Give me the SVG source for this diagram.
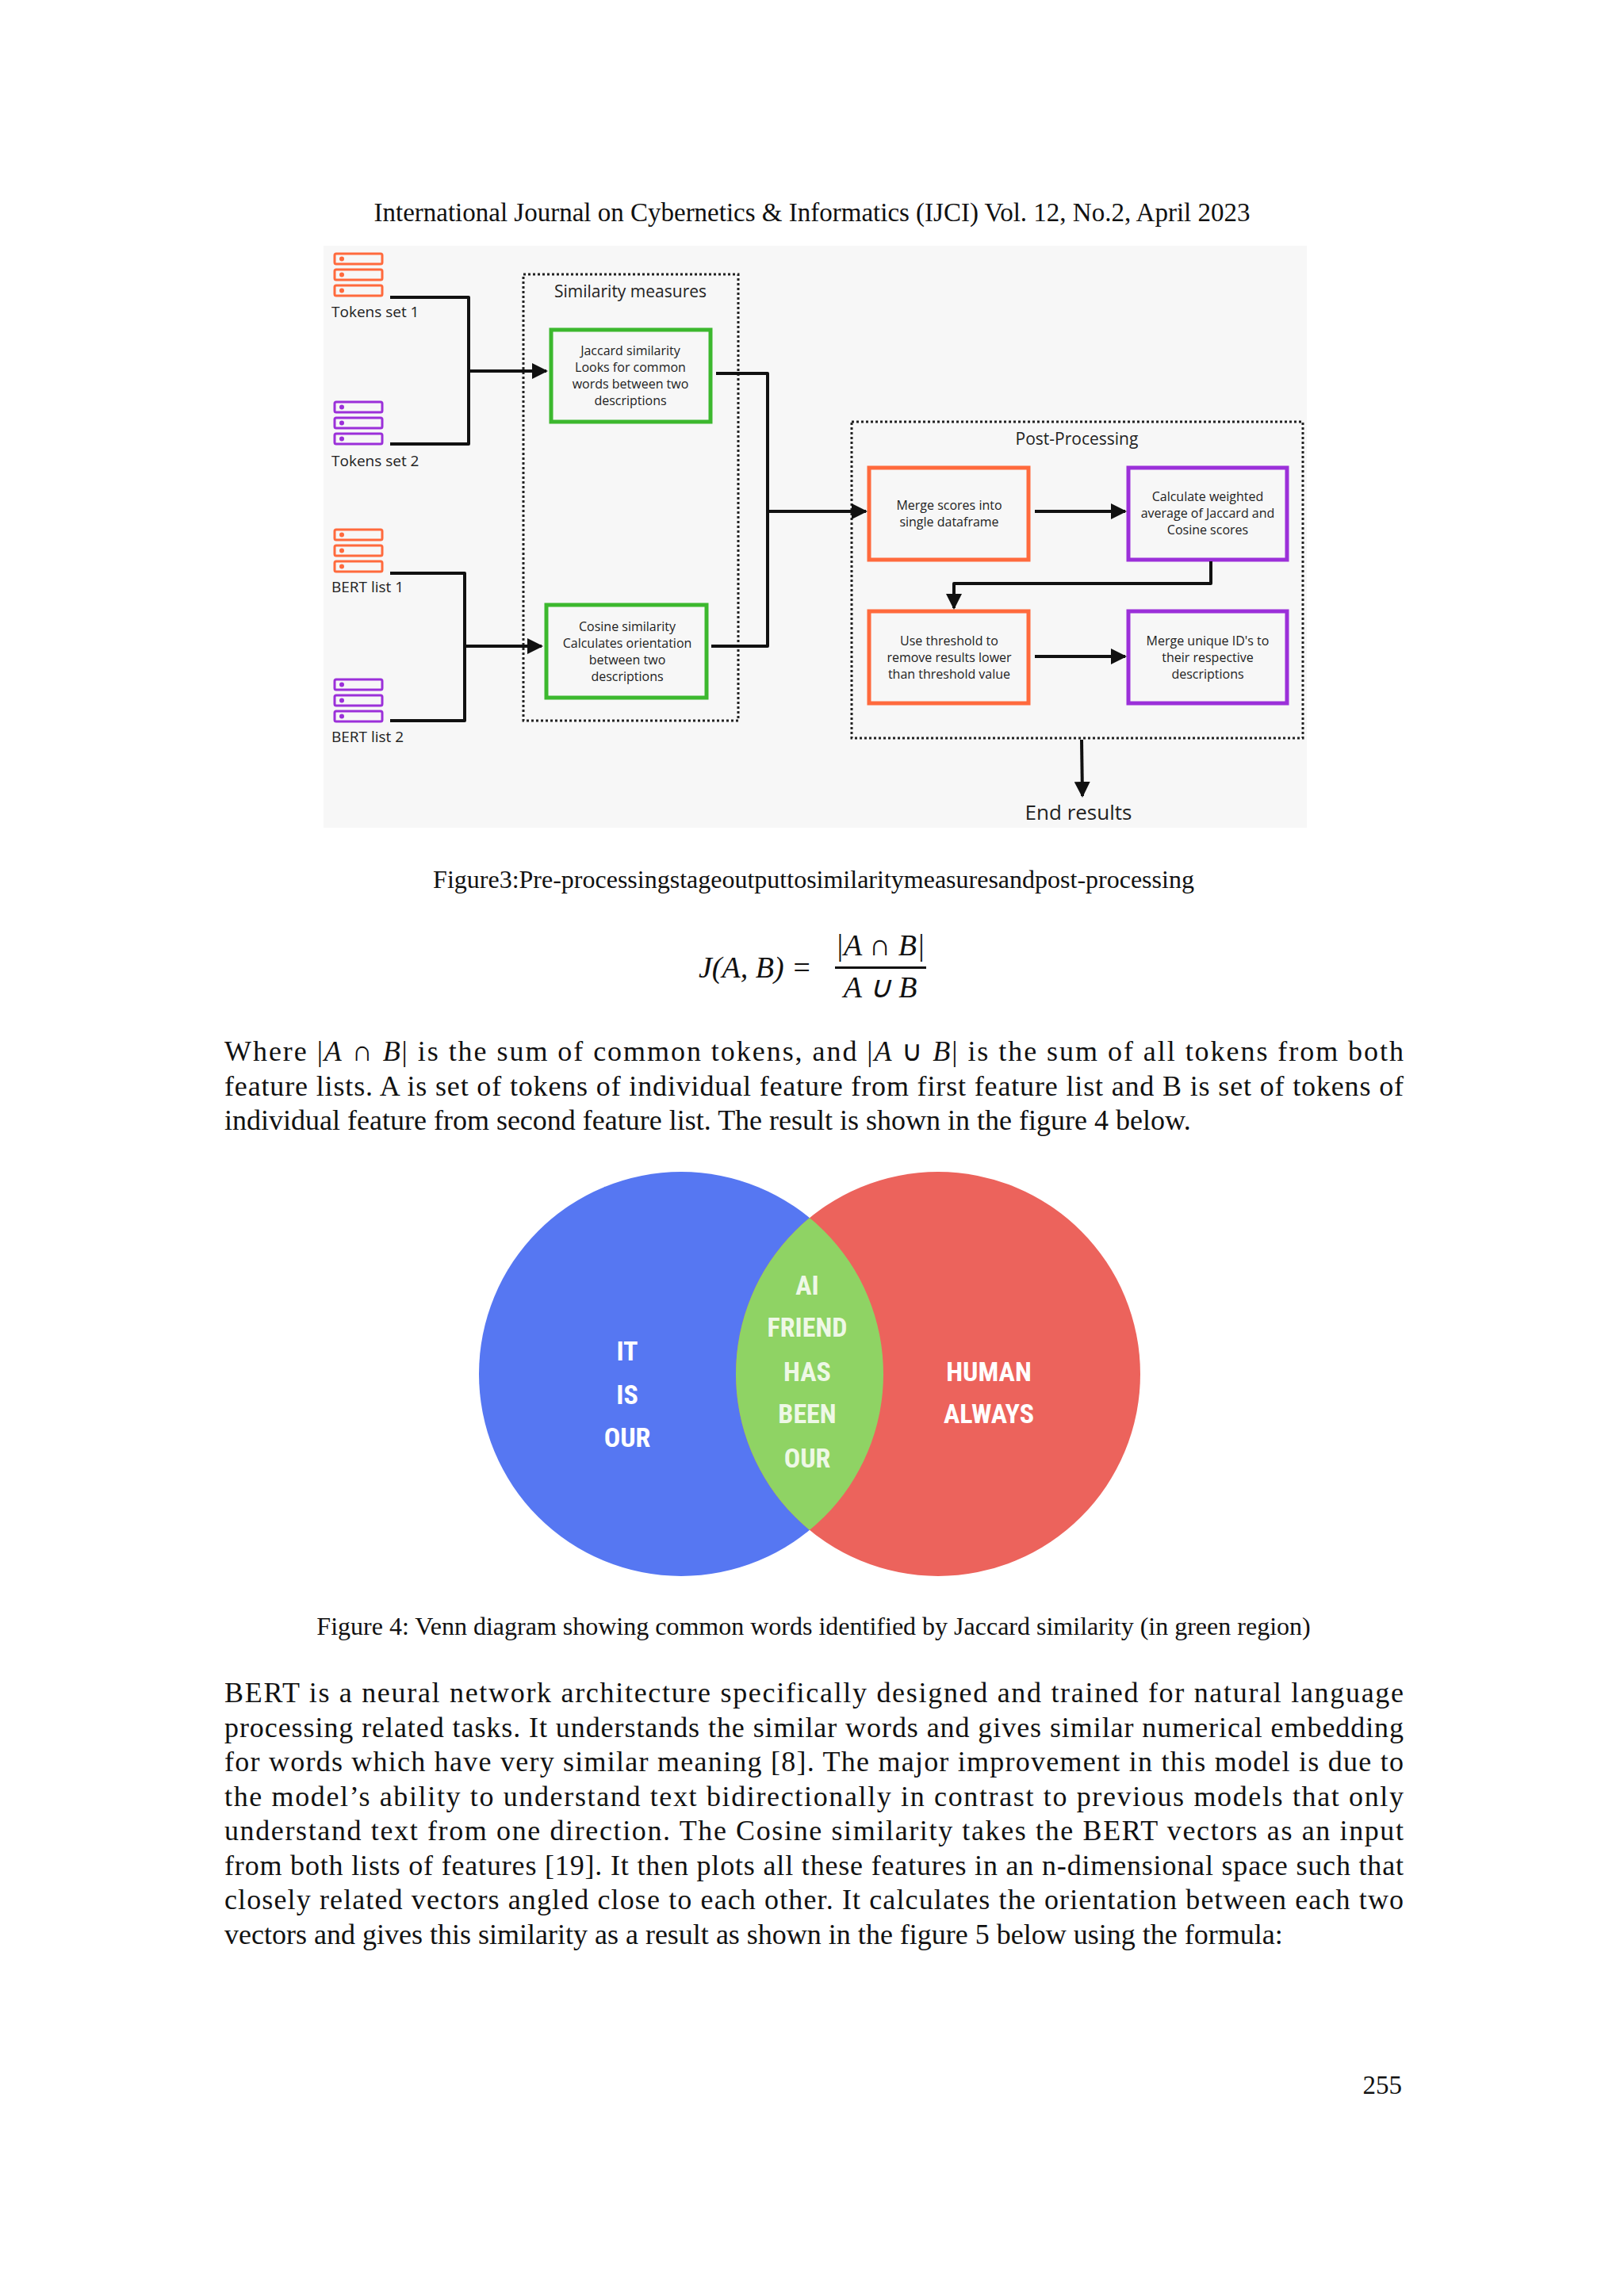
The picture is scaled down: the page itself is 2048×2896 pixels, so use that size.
<svg xmlns="http://www.w3.org/2000/svg" width="2048" height="2896" viewBox="0 0 2048 2896">
<style>
.serif{font-family:"Liberation Serif","Times New Roman",serif;fill:#111}
.sans{font-family:"Open Sans","Liberation Sans",sans-serif;fill:#222}
.box{fill:#f7f7f7;stroke-width:5}
.g{stroke:#3cb82e}.o{stroke:#ff6a3d}.p{stroke:#9b30d9}
.dot{fill:none;stroke:#222;stroke-width:3;stroke-dasharray:3 3}
.ln{fill:none;stroke:#111;stroke-width:4;stroke-linejoin:round}
.bt{font-size:16px;text-anchor:middle}
.ven{font-family:"Liberation Sans Narrow","Roboto Condensed","Liberation Sans",sans-serif;font-weight:bold;font-size:34px;text-anchor:middle;fill:#fff}
.para{font-size:36px}
</style>
<defs>
<marker id="ar" viewBox="0 0 10 10" refX="9" refY="5" markerWidth="5" markerHeight="5" orient="auto"><path d="M0,0L10,5L0,10z" fill="#111"/></marker>
<g id="ico-o"><rect x="2" y="2" width="60" height="13" rx="2" fill="none" stroke="#ff6a3d" stroke-width="3"/><rect x="2" y="22" width="60" height="13" rx="2" fill="none" stroke="#ff6a3d" stroke-width="3"/><rect x="2" y="42" width="60" height="13" rx="2" fill="none" stroke="#ff6a3d" stroke-width="3"/><circle cx="11" cy="8.5" r="3" fill="#ff6a3d"/><circle cx="11" cy="28.5" r="3" fill="#ff6a3d"/><circle cx="11" cy="48.5" r="3" fill="#ff6a3d"/></g>
<g id="ico-p"><rect x="2" y="2" width="60" height="13" rx="2" fill="none" stroke="#9b30d9" stroke-width="3"/><rect x="2" y="22" width="60" height="13" rx="2" fill="none" stroke="#9b30d9" stroke-width="3"/><rect x="2" y="42" width="60" height="13" rx="2" fill="none" stroke="#9b30d9" stroke-width="3"/><circle cx="11" cy="8.5" r="3" fill="#9b30d9"/><circle cx="11" cy="28.5" r="3" fill="#9b30d9"/><circle cx="11" cy="48.5" r="3" fill="#9b30d9"/></g>
</defs>
<rect width="2048" height="2896" fill="#fff"/>
<text class="serif" x="1024" y="279" font-size="33" text-anchor="middle">International Journal on Cybernetics &amp; Informatics (IJCI) Vol. 12, No.2, April 2023</text>

<rect x="408" y="310" width="1240" height="734" fill="#f7f7f7"/>

<g id="tokens1"><use href="#ico-o" x="420" y="318"/><text class="sans" x="418" y="400" font-size="19">Tokens set 1</text></g>
<g id="tokens2"><use href="#ico-p" x="420" y="505"/><text class="sans" x="418" y="588" font-size="19">Tokens set 2</text></g>
<g id="bert1"><use href="#ico-o" x="420" y="666"/><text class="sans" x="418" y="747" font-size="19">BERT list 1</text></g>
<g id="bert2"><use href="#ico-p" x="420" y="855"/><text class="sans" x="418" y="936" font-size="19">BERT list 2</text></g>

<g id="simgroup"><rect class="dot" x="660" y="346" width="271" height="563"/><text class="sans" x="795" y="375" font-size="21" text-anchor="middle">Similarity measures</text></g>
<g id="jaccard"><rect class="box g" x="695" y="416" width="201" height="116"/>
<text class="sans bt" x="795" y="448">Jaccard similarity</text><text class="sans bt" x="795" y="469">Looks for common</text><text class="sans bt" x="795" y="490">words between two</text><text class="sans bt" x="795" y="511">descriptions</text></g>
<g id="cosine"><rect class="box g" x="689" y="763" width="202" height="117"/>
<text class="sans bt" x="791" y="796">Cosine similarity</text><text class="sans bt" x="791" y="817">Calculates orientation</text><text class="sans bt" x="791" y="838">between two</text><text class="sans bt" x="791" y="859">descriptions</text></g>

<g id="postgroup"><rect class="dot" x="1074" y="532" width="569" height="399"/><text class="sans" x="1358" y="561" font-size="21" text-anchor="middle">Post-Processing</text></g>
<g id="merge"><rect class="box o" x="1096" y="590" width="201" height="116"/><text class="sans bt" x="1197" y="643">Merge scores into</text><text class="sans bt" x="1197" y="664">single dataframe</text></g>
<g id="weighted"><rect class="box p" x="1423" y="590" width="200" height="116"/><text class="sans bt" x="1523" y="632">Calculate weighted</text><text class="sans bt" x="1523" y="653">average of Jaccard and</text><text class="sans bt" x="1523" y="674">Cosine scores</text></g>
<g id="threshold"><rect class="box o" x="1096" y="771" width="201" height="116"/><text class="sans bt" x="1197" y="814">Use threshold to</text><text class="sans bt" x="1197" y="835">remove results lower</text><text class="sans bt" x="1197" y="856">than threshold value</text></g>
<g id="mergeids"><rect class="box p" x="1423" y="771" width="200" height="116"/><text class="sans bt" x="1523" y="814">Merge unique ID's to</text><text class="sans bt" x="1523" y="835">their respective</text><text class="sans bt" x="1523" y="856">descriptions</text></g>
<g id="end"><text class="sans" x="1360" y="1034" font-size="26" text-anchor="middle">End results</text></g>

<g id="connectors">
<path class="ln" d="M492,375H591V560H492"/><path class="ln" d="M591,468H689" marker-end="url(#ar)"/>
<path class="ln" d="M492,723H586V909H492"/><path class="ln" d="M586,815H683" marker-end="url(#ar)"/>
<path class="ln" d="M903,471H968V815H897"/><path class="ln" d="M968,645H1092" marker-end="url(#ar)"/>
<path class="ln" d="M1305,645H1419" marker-end="url(#ar)"/>
<path class="ln" d="M1527,708V736H1203V767" marker-end="url(#ar)"/>
<path class="ln" d="M1305,828H1419" marker-end="url(#ar)"/>
<path class="ln" d="M1364,933L1365,1004" marker-end="url(#ar)"/>
</g>

<text class="serif" x="1026" y="1120" font-size="32" text-anchor="middle">Figure3:Pre-processingstageoutputtosimilaritymeasuresandpost-processing</text>

<g class="serif" font-style="italic" font-size="38">
<text x="881" y="1233">J(A, B) =</text>
<text x="1110" y="1205" text-anchor="middle">|A ∩ B|</text>
<rect x="1053" y="1219" width="115" height="3" fill="#111"/>
<text x="1110" y="1258" text-anchor="middle">A ∪ B</text>
</g>

<g class="serif para">
<text x="283" y="1338" textLength="1487" lengthAdjust="spacing">Where |<tspan font-style="italic">A</tspan> ∩ <tspan font-style="italic">B</tspan>| is the sum of common tokens, and |<tspan font-style="italic">A</tspan> ∪ <tspan font-style="italic">B</tspan>| is the sum of all tokens from both</text>
<text x="283" y="1382" textLength="1487" lengthAdjust="spacing">feature lists. A is set of tokens of individual feature from first feature list and B is set of tokens of</text>
<text x="283" y="1425">individual feature from second feature list. The result is shown in the figure 4 below.</text>
</g>

<g id="venn">
<defs><clipPath id="cb"><circle cx="859" cy="1733" r="255"/></clipPath></defs>
<circle cx="859" cy="1733" r="255" fill="#5677f2"/>
<circle cx="1183" cy="1733" r="255" fill="#ec635c"/>
<circle cx="1183" cy="1733" r="255" fill="#8fd364" clip-path="url(#cb)"/>
<text class="ven" x="791" y="1716">IT</text><text class="ven" x="791" y="1771">IS</text><text class="ven" x="791" y="1825">OUR</text>
<g fill="#eaf6df"><text class="ven" x="1018" y="1633" style="fill:#eef8e6">AI</text><text class="ven" x="1018" y="1686" style="fill:#eef8e6">FRIEND</text><text class="ven" x="1018" y="1742" style="fill:#eef8e6">HAS</text><text class="ven" x="1018" y="1795" style="fill:#eef8e6">BEEN</text><text class="ven" x="1018" y="1851" style="fill:#eef8e6">OUR</text></g>
<text class="ven" x="1247" y="1742">HUMAN</text><text class="ven" x="1247" y="1795">ALWAYS</text>
</g>

<text class="serif" x="1026" y="2062" font-size="32" text-anchor="middle">Figure 4: Venn diagram showing common words identified by Jaccard similarity (in green region)</text>

<g class="serif para">
<text x="283" y="2147" textLength="1487" lengthAdjust="spacing">BERT is a neural network architecture specifically designed and trained for natural language</text>
<text x="283" y="2191" textLength="1487" lengthAdjust="spacing">processing related tasks. It understands the similar words and gives similar numerical embedding</text>
<text x="283" y="2234" textLength="1487" lengthAdjust="spacing">for words which have very similar meaning [8]. The major improvement in this model is due to</text>
<text x="283" y="2278" textLength="1487" lengthAdjust="spacing">the model’s ability to understand text bidirectionally in contrast to previous models that only</text>
<text x="283" y="2321" textLength="1487" lengthAdjust="spacing">understand text from one direction. The Cosine similarity takes the BERT vectors as an input</text>
<text x="283" y="2365" textLength="1487" lengthAdjust="spacing">from both lists of features [19]. It then plots all these features in an n-dimensional space such that</text>
<text x="283" y="2408" textLength="1487" lengthAdjust="spacing">closely related vectors angled close to each other. It calculates the orientation between each two</text>
<text x="283" y="2452">vectors and gives this similarity as a result as shown in the figure 5 below using the formula:</text>
</g>
<text class="serif" x="1768" y="2641" font-size="33" text-anchor="end">255</text>
</svg>
